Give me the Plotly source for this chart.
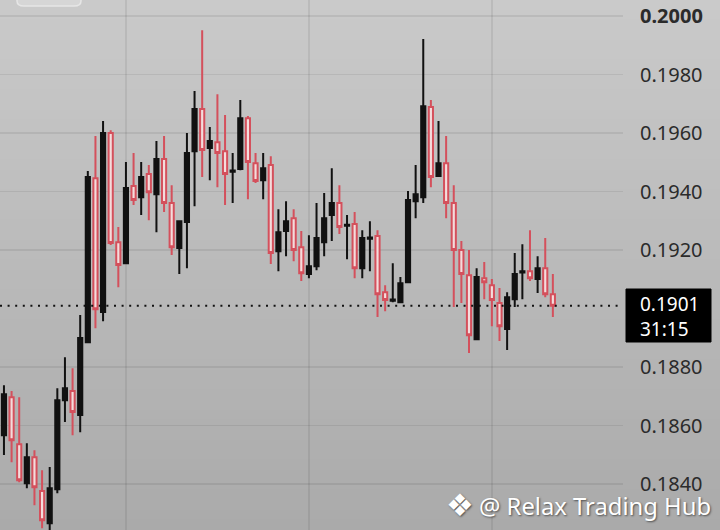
import plotly.graph_objects as go

# ---- data ----
opens = [0.18567, 0.18697, 0.18536, 0.18403, 0.18492, 0.18376, 0.18266, 0.18382, 0.18687, 0.18718,
         0.18636, 0.18885, 0.19446, 0.18988, 0.19600, 0.19227, 0.19155, 0.19419, 0.19381, 0.19460,
         0.19391, 0.19511, 0.19361, 0.19207, 0.19296, 0.19538, 0.19682, 0.19549, 0.19569, 0.19538,
         0.19468, 0.19477, 0.19651, 0.19497, 0.19439, 0.19491, 0.19196, 0.19265, 0.19309, 0.19210,
         0.19118, 0.19145, 0.19227, 0.19320, 0.19361, 0.19283, 0.19289, 0.19138, 0.19239, 0.19248,
         0.19056, 0.19027, 0.19022, 0.19090, 0.19367, 0.19381, 0.19689, 0.19453, 0.19497, 0.19361,
         0.19200, 0.19114, 0.18895, 0.19104, 0.19080, 0.19019, 0.18930, 0.19032, 0.19123, 0.19128,
         0.19101, 0.19138, 0.19049]
highs = [0.18738, 0.18718, 0.18697, 0.18540, 0.18516, 0.18447, 0.18458, 0.18728, 0.18834, 0.18796,
         0.18978, 0.19470, 0.19590, 0.19641, 0.19610, 0.19279, 0.19501, 0.19532, 0.19501, 0.19491,
         0.19573, 0.19590, 0.19422, 0.19299, 0.19600, 0.19744, 0.19952, 0.19621, 0.19733, 0.19662,
         0.19532, 0.19713, 0.19658, 0.19532, 0.19532, 0.19521, 0.19340, 0.19367, 0.19340, 0.19265,
         0.19251, 0.19361, 0.19395, 0.19480, 0.19422, 0.19320, 0.19330, 0.19268, 0.19299, 0.19268,
         0.19080, 0.19155, 0.19108, 0.19402, 0.19491, 0.19922, 0.19713, 0.19641, 0.19590, 0.19422,
         0.19231, 0.19200, 0.19138, 0.19159, 0.19101, 0.19070, 0.19056, 0.19190, 0.19220, 0.19268,
         0.19179, 0.19241, 0.19118]
lows = [0.18499, 0.18475, 0.18406, 0.18386, 0.18328, 0.18249, 0.18240, 0.18369, 0.18612, 0.18567,
        0.18577, 0.18882, 0.18933, 0.18957, 0.19217, 0.19073, 0.19152, 0.19354, 0.19320, 0.19302,
        0.19261, 0.19330, 0.19183, 0.19118, 0.19138, 0.19350, 0.19450, 0.19439, 0.19415, 0.19354,
        0.19361, 0.19473, 0.19374, 0.19429, 0.19374, 0.19152, 0.19128, 0.19179, 0.19162, 0.19094,
        0.19104, 0.19131, 0.19179, 0.19231, 0.19255, 0.19169, 0.19104, 0.19104, 0.19128, 0.18971,
        0.18991, 0.19022, 0.19019, 0.19088, 0.19309, 0.19361, 0.19415, 0.19450, 0.19309, 0.19005,
        0.19019, 0.18848, 0.18893, 0.19032, 0.18940, 0.18889, 0.18858, 0.19005, 0.19032, 0.19094,
        0.19053, 0.19039, 0.18971]
closes = [0.18707, 0.18550, 0.18413, 0.18492, 0.18389, 0.18276, 0.18386, 0.18687, 0.18728, 0.18646,
          0.18899, 0.19450, 0.18998, 0.19600, 0.19224, 0.19149, 0.19412, 0.19371, 0.19450, 0.19398,
          0.19511, 0.19361, 0.19210, 0.19299, 0.19532, 0.19682, 0.19542, 0.19573, 0.19532, 0.19460,
          0.19472, 0.19651, 0.19501, 0.19436, 0.19480, 0.19190, 0.19261, 0.19299, 0.19200, 0.19121,
          0.19145, 0.19241, 0.19309, 0.19361, 0.19279, 0.19287, 0.19138, 0.19241, 0.19243, 0.19049,
          0.19029, 0.19031, 0.19087, 0.19371, 0.19391, 0.19692, 0.19450, 0.19497, 0.19361, 0.19200,
          0.19118, 0.18909, 0.19108, 0.19090, 0.19029, 0.18940, 0.19039, 0.19118, 0.19128, 0.19104,
          0.19138, 0.19049, 0.19010]
bar_index = list(range(len(opens)))

price_ticks = [0.1840, 0.1860, 0.1880, 0.1920, 0.1940, 0.1960, 0.1980, 0.2000]
price_tick_labels = ["0.1840", "0.1860", "0.1880", "0.1920", "0.1940", "0.1960", "0.1980", "<b>0.2000</b>"]
time_grid = [16, 40, 64]
last_price = 0.1901
last_price_label = "0.1901"
countdown_label = "31:15"
watermark = "@ Relax Trading Hub"

W, H = 720, 530
PLOT_RIGHT = 623 / W

fig = go.Figure()
fig.add_trace(go.Candlestick(
    x=bar_index, open=opens, high=highs, low=lows, close=closes,
    increasing=dict(line=dict(color="#111111", width=2), fillcolor="#111111"),
    decreasing=dict(line=dict(color="#d4505c", width=2), fillcolor="#f4dcdc"),
    whiskerwidth=0, hoverinfo="skip", showlegend=False,
))

# background vertical gradient
shapes = []
n = 53
top_c, bot_c = (202, 202, 202), (170, 170, 170)
for k in range(n):
    t = (k + 0.5) / n
    c = tuple(round(top_c[j] + (bot_c[j] - top_c[j]) * t) for j in range(3))
    shapes.append(dict(type="rect", xref="paper", yref="paper", x0=0, x1=1,
                       y0=1 - (k + 1) / n - 0.001, y1=1 - k / n + 0.001,
                       fillcolor="rgb(%d,%d,%d)" % c, line=dict(width=0), layer="below"))
# top-left UI element
ui_path = "M %f %f L %f %f Q %f %f %f %f L %f %f Q %f %f %f %f L %f %f Z" % (
    17/W, 1.02, 17/W, 1 - 1/H, 17/W, 1 - 6/H, 24/W, 1 - 6/H,
    74/W, 1 - 6/H, 81/W, 1 - 6/H, 81/W, 1 - 1/H, 81/W, 1.02)
shapes.append(dict(type="path", xref="paper", yref="paper", path=ui_path,
                   fillcolor="#d6d6d6", line=dict(color="#e6e6e6", width=1.5), layer="below"))
# last price dotted line
shapes.append(dict(type="line", xref="x domain", yref="y", x0=0, x1=1, y0=last_price, y1=last_price,
                   line=dict(color="#111111", width=2, dash="2px,5.6px")))
# price label box
shapes.append(dict(type="rect", xref="paper", yref="paper", x0=626/W, x1=711/W,
                   y0=1 - 342/H, y1=1 - 289/H, fillcolor="#000000", line=dict(color="#000000", width=1)))
fig.update_layout(shapes=shapes)

fig.add_annotation(xref="paper", yref="paper", x=638/W, y=1 - 316/H, xanchor="left", yanchor="middle",
                   text=last_price_label + "<br>" + countdown_label, showarrow=False, align="left",
                   font=dict(family="Noto Sans", size=19, color="#ffffff"))
fig.add_annotation(xref="paper", yref="paper", x=444/W, y=1 - 505/H, xanchor="left", yanchor="middle",
                   text="❖", showarrow=False,
                   font=dict(family="DejaVu Sans", size=31, color="#ffffff",
                             shadow="1px 1px 2px rgba(0,0,0,0.55)"))
fig.add_annotation(xref="paper", yref="paper", x=477/W, y=1 - 506/H, xanchor="left", yanchor="middle",
                   text=watermark, showarrow=False,
                   font=dict(family="Noto Sans", size=23.8, color="#ffffff",
                             shadow="1px 1px 2px rgba(0,0,0,0.55)"))

fig.update_layout(
    width=W, height=H,
    margin=dict(l=0, r=0, t=0, b=0),
    paper_bgcolor="#bdbdbd", plot_bgcolor="rgba(0,0,0,0)",
    boxgap=0.22,
    hovermode=False,
    xaxis=dict(domain=[0, PLOT_RIGHT], range=[-0.52, 81.2], rangeslider=dict(visible=False),
               showticklabels=False, ticks="", tickvals=time_grid, showgrid=True,
               gridcolor="rgba(0,0,0,0.07)", gridwidth=1.5, zeroline=False, showline=False),
    yaxis=dict(side="right", range=[0.18243, 0.20055], tickvals=price_ticks, ticktext=price_tick_labels,
               showgrid=True, gridcolor="rgba(0,0,0,0.07)", gridwidth=1.5, zeroline=False, showline=False,
               ticks="", ticklabelstandoff=16,
               tickfont=dict(family="Noto Sans", size=20, color="#2b2b2b")),
)

fig.write_html("out.html", config={"displayModeBar": False, "staticPlot": True},
               post_script="document.body.style.margin='0';document.body.style.padding='0';")
